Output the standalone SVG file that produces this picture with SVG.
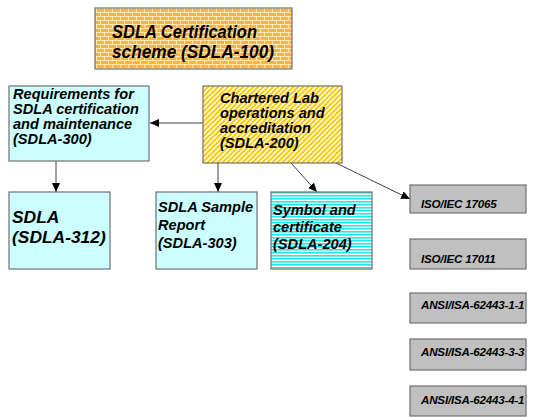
<svg xmlns="http://www.w3.org/2000/svg" width="549" height="417" viewBox="0 0 549 417">
<defs>
<pattern id="brick" width="8" height="8" patternUnits="userSpaceOnUse">
<rect width="8" height="8" fill="#FFB347"/>
<path d="M0 0.5H8M0 4.5H8M0.5 0.5V4.5M4.5 4.5V8" stroke="#FFE8B0" stroke-width="1" fill="none"/>
</pattern>
<pattern id="diag" width="5" height="5" patternUnits="userSpaceOnUse">
<rect width="5" height="5" fill="#FFFFFF"/>
<path d="M-1 6L6 -1M-1 1L1 -1M4 6L6 4" stroke="#FFCC00" stroke-width="2"/>
</pattern>
<pattern id="hstripe" width="4" height="3" patternUnits="userSpaceOnUse">
<rect width="4" height="3" fill="#FFFFFF"/>
<rect width="4" height="1.6" fill="#22E8E8"/>
</pattern>
<marker id="arr" markerWidth="9" markerHeight="8" refX="9" refY="4" orient="auto" markerUnits="userSpaceOnUse">
<path d="M0 0L9 4L0 8Z" fill="#000"/>
</marker>
</defs>
<style>
.box{stroke:#707070;stroke-width:1.2}
.cy{fill:#CCFFFF}
.gr{fill:#C0C0C0}
text{font-family:"Liberation Sans",Arial,sans-serif;font-weight:bold;font-style:italic;fill:#000}
.t16{font-size:17.5px}
.t14{font-size:14.6px}
.t17{font-size:17.4px}
.t11{font-size:11.6px;letter-spacing:-0.2px}
.con{stroke:#404040;stroke-width:1;fill:none;marker-end:url(#arr)}
</style>
<rect width="549" height="417" fill="#FFFFFF"/>
<g id="connectors">
<line class="con" x1="203" y1="123" x2="150" y2="123"/>
<line class="con" x1="56" y1="161" x2="56" y2="192"/>
<line class="con" x1="218" y1="163" x2="218" y2="192"/>
<line class="con" x1="291" y1="163" x2="317" y2="192"/>
<line class="con" x1="336" y1="163" x2="410" y2="199"/>
</g>
<g id="sdla100">
<rect class="box" x="95" y="8" width="197" height="61" fill="url(#brick)"/>
<text class="t16" x="112" y="38" textLength="145" lengthAdjust="spacingAndGlyphs">SDLA Certification</text>
<text class="t16" x="112" y="58" textLength="162" lengthAdjust="spacingAndGlyphs">scheme (SDLA-100)</text>
</g>
<g id="sdla300">
<rect class="box cy" x="9" y="86" width="140" height="75"/>
<text class="t14" x="13" y="99">Requirements for</text>
<text class="t14" x="13" y="114">SDLA certification</text>
<text class="t14" x="13" y="129">and maintenance</text>
<text class="t14" x="13" y="144">(SDLA-300)</text>
</g>
<g id="sdla200">
<rect class="box" x="203" y="86" width="139" height="77" fill="url(#diag)"/>
<text class="t14" x="220" y="103">Chartered Lab</text>
<text class="t14" x="220" y="118">operations and</text>
<text class="t14" x="220" y="133">accreditation</text>
<text class="t14" x="220" y="148">(SDLA-200)</text>
</g>
<g id="sdla312">
<rect class="box cy" x="9" y="192" width="101" height="77"/>
<text class="t17" x="12" y="223">SDLA</text>
<text class="t17" x="12" y="243">(SDLA-312)</text>
</g>
<g id="sdla303">
<rect class="box cy" x="156" y="192" width="101" height="77"/>
<text class="t14" x="158" y="212">SDLA Sample</text>
<text class="t14" x="158" y="230">Report</text>
<text class="t14" x="158" y="248">(SDLA-303)</text>
</g>
<g id="sdla204">
<rect class="box" x="271" y="192" width="101" height="77" fill="url(#hstripe)"/>
<text class="t14" x="273" y="215">Symbol and</text>
<text class="t14" x="273" y="232">certificate</text>
<text class="t14" x="273" y="249">(SDLA-204)</text>
</g>
<g id="iso17065">
<rect class="box gr" x="410" y="185" width="116" height="28"/>
<text class="t11" x="421" y="208">ISO/IEC 17065</text>
</g>
<g id="iso17011">
<rect class="box gr" x="410" y="239" width="116" height="30"/>
<text class="t11" x="421" y="263">ISO/IEC 17011</text>
</g>
<g id="isa1-1">
<rect class="box gr" x="410" y="293" width="116" height="30"/>
<text class="t11" x="421" y="309">ANSI/ISA-62443-1-1</text>
</g>
<g id="isa3-3">
<rect class="box gr" x="410" y="339" width="116" height="31"/>
<text class="t11" x="421" y="356">ANSI/ISA-62443-3-3</text>
</g>
<g id="isa4-1">
<rect class="box gr" x="410" y="386" width="116" height="30"/>
<text class="t11" x="421" y="404">ANSI/ISA-62443-4-1</text>
</g>
</svg>
